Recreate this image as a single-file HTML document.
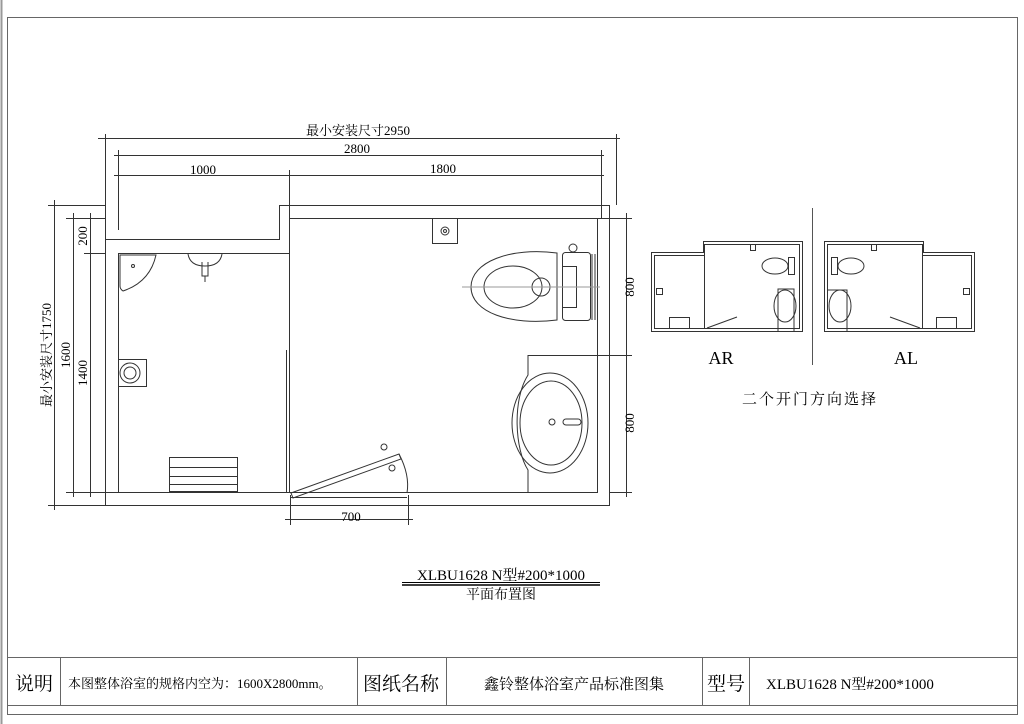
<!DOCTYPE html>
<html><head><meta charset="utf-8"><style>
html,body{margin:0;padding:0;background:#fff;width:1024px;height:724px;overflow:hidden}
svg{display:block}
text{font-family:"Liberation Serif","Noto Serif CJK SC","WenQuanYi Zen Hei",serif;fill:#000}
</style></head><body>
<svg width="1024" height="724" viewBox="0 0 1024 724" xmlns="http://www.w3.org/2000/svg">
<g fill="none" stroke="#333" stroke-width="1">
<line x1="1.5" y1="0" x2="1.5" y2="724" stroke="#999" stroke-width="2"/>
<rect x="7.5" y="17.5" width="1010" height="697" stroke="#666"/>
<rect x="7.5" y="657.5" width="1010" height="48" stroke="#666"/>
<line x1="60.5" y1="657" x2="60.5" y2="705" stroke="#666"/>
<line x1="357.5" y1="657" x2="357.5" y2="705" stroke="#666"/>
<line x1="446.5" y1="657" x2="446.5" y2="705" stroke="#666"/>
<line x1="702.5" y1="657" x2="702.5" y2="705" stroke="#666"/>
<line x1="749.5" y1="657" x2="749.5" y2="705" stroke="#666"/>

<path d="M105.5 505.5 V239.5 H279.5 V205.5 H609.5 V505.5 Z"/>
<rect x="118.5" y="253.5" width="171" height="239"/>
<path d="M289.5 492.5 V218.5 H597.5 V492.5 H289.5"/>
<line x1="286.5" y1="350" x2="286.5" y2="492"/>

<line x1="98" y1="138.5" x2="620" y2="138.5"/>
<line x1="105.5" y1="134" x2="105.5" y2="239"/>
<line x1="616.5" y1="134" x2="616.5" y2="205"/>
<line x1="114" y1="155.5" x2="604" y2="155.5"/>
<line x1="114" y1="175.5" x2="604" y2="175.5"/>
<line x1="118.5" y1="150" x2="118.5" y2="230"/>
<line x1="289.5" y1="170" x2="289.5" y2="218"/>
<line x1="601.5" y1="150" x2="601.5" y2="218"/>
<line x1="54.5" y1="200" x2="54.5" y2="510"/>
<line x1="73.5" y1="213" x2="73.5" y2="497"/>
<line x1="90.5" y1="213" x2="90.5" y2="497"/>
<line x1="48" y1="205.5" x2="105" y2="205.5"/>
<line x1="66" y1="218.5" x2="105" y2="218.5"/>
<line x1="84" y1="253.5" x2="105" y2="253.5"/>
<line x1="66" y1="492.5" x2="118" y2="492.5"/>
<line x1="48" y1="505.5" x2="105" y2="505.5"/>
<line x1="626.5" y1="213" x2="626.5" y2="497"/>
<line x1="597" y1="218.5" x2="632" y2="218.5"/>
<line x1="597" y1="355.5" x2="632" y2="355.5"/>
<line x1="609" y1="492.5" x2="632" y2="492.5"/>
<line x1="285" y1="519.5" x2="413" y2="519.5"/>
<line x1="290.5" y1="495" x2="290.5" y2="525"/>
<line x1="408.5" y1="495" x2="408.5" y2="525"/>

<rect x="432.5" y="218.5" width="25" height="25"/>
<circle cx="445" cy="231" r="4"/><circle cx="445" cy="231" r="1.5"/>
<path d="M557 253 C510 247 471 262 471 287 C471 312 510 326 557 320 Z"/>
<ellipse cx="513" cy="287" rx="29" ry="21"/>
<circle cx="541" cy="287" r="9"/>
<rect x="562.5" y="252.5" width="28" height="68" rx="3"/>
<rect x="562.5" y="266.5" width="14" height="41"/>
<line x1="592" y1="254" x2="592" y2="320"/><line x1="595" y1="254" x2="595" y2="320"/>
<circle cx="573" cy="248" r="4"/>
<line x1="462" y1="287" x2="600" y2="287" stroke="#999"/>
<path d="M528 492 V470 C515 450 512 400 528 375 V355.5 H597"/>
<ellipse cx="550" cy="423" rx="38" ry="50"/>
<ellipse cx="551" cy="423" rx="31" ry="42"/>
<circle cx="552" cy="422" r="3"/>
<rect x="563" y="419" width="18" height="6" rx="3"/>
<path d="M291 493 L399 454 L401 459 L293 498 Z"/>
<path d="M399 454 Q410 475 407 493"/>
<circle cx="384" cy="447" r="3"/><circle cx="392" cy="468" r="3"/>
<line x1="291" y1="497.5" x2="407" y2="497.5"/>

<path d="M120 255 H156 Q150 282 123 291 Q120 289 120 286 Z"/>
<circle cx="133" cy="266" r="1.5"/>
<path d="M188 254 Q190 266 205 266 Q220 266 222 254"/>
<path d="M202 262 V276 H208 V262"/>
<line x1="205" y1="276" x2="205" y2="282"/>
<rect x="118.5" y="359.5" width="28" height="27"/>
<circle cx="130" cy="373" r="10"/><circle cx="130" cy="373" r="6"/>
<rect x="169.5" y="457.5" width="68" height="34"/>
<line x1="169" y1="467.5" x2="237" y2="467.5"/>
<line x1="169" y1="476.5" x2="237" y2="476.5"/>
<line x1="169" y1="484.5" x2="237" y2="484.5"/>

<line x1="812.5" y1="208" x2="812.5" y2="365" stroke="#555"/>
<path d="M651.5 331.5 V252.5 H703.5 V241.5 H802.5 V331.5 Z"/>
<rect x="654.5" y="255.5" width="50" height="73"/>
<path d="M704.5 328.5 V244.5 H799.5 V328.5 Z"/>
<ellipse cx="775" cy="266" rx="13" ry="8"/><rect x="788.5" y="257.5" width="6" height="17"/>
<path d="M778 332 V289 H794 V332"/>
<ellipse cx="785" cy="306" rx="11" ry="16"/>
<rect x="750.5" y="244.5" width="5" height="6"/>
<line x1="707" y1="328" x2="737" y2="317"/>
<rect x="669.5" y="317.5" width="20" height="11"/>
<rect x="656.5" y="288.5" width="6" height="6"/>
<path d="M824.5 331.5 V241.5 H923.5 V252.5 H974.5 V331.5 Z"/>
<rect x="922.5" y="255.5" width="49" height="73"/>
<path d="M827.5 328.5 V244.5 H922.5 V328.5 Z"/>
<ellipse cx="851" cy="266" rx="13" ry="8"/><rect x="831.5" y="257.5" width="6" height="17"/>
<path d="M827 290 H847 V332"/>
<ellipse cx="840" cy="306" rx="11" ry="16"/>
<rect x="871.5" y="244.5" width="5" height="6"/>
<line x1="920" y1="328" x2="890" y2="317"/>
<rect x="936.5" y="317.5" width="20" height="11"/>
<rect x="963.5" y="288.5" width="6" height="6"/>

<line x1="402" y1="582.5" x2="600" y2="582.5" stroke="#000"/>
<line x1="402" y1="585" x2="600" y2="585" stroke="#000" stroke-width="1.5"/>
</g>

<g font-size="13">
<text x="358" y="135" text-anchor="middle">最小安装尺寸2950</text>
<text x="357" y="153" text-anchor="middle">2800</text>
<text x="203" y="174" text-anchor="middle">1000</text>
<text x="443" y="173" text-anchor="middle">1800</text>
<text x="351" y="521" text-anchor="middle">700</text>
<text transform="translate(51,355) rotate(-90)" text-anchor="middle">最小安装尺寸1750</text>
<text transform="translate(70,355) rotate(-90)" text-anchor="middle">1600</text>
<text transform="translate(87,236) rotate(-90)" text-anchor="middle">200</text>
<text transform="translate(87,373) rotate(-90)" text-anchor="middle">1400</text>
<text transform="translate(634,287) rotate(-90)" text-anchor="middle">800</text>
<text transform="translate(634,423) rotate(-90)" text-anchor="middle">800</text>
</g>
<text x="721" y="364" font-size="18" text-anchor="middle">AR</text>
<text x="906" y="364" font-size="18" text-anchor="middle">AL</text>
<text x="810" y="404" font-size="15" text-anchor="middle" letter-spacing="2">二个开门方向选择</text>
<text x="501" y="580" font-size="15" text-anchor="middle">XLBU1628 N型#200*1000</text>
<text x="501" y="599" font-size="14" text-anchor="middle">平面布置图</text>
<text x="34" y="690" font-size="19" text-anchor="middle">说明</text>
<text x="68" y="688" font-size="13">本图整体浴室的规格内空为：1600X2800mm。</text>
<text x="401" y="690" font-size="19" text-anchor="middle">图纸名称</text>
<text x="574" y="689" font-size="15" text-anchor="middle">鑫铃整体浴室产品标准图集</text>
<text x="726" y="690" font-size="19" text-anchor="middle">型号</text>
<text x="766" y="689" font-size="15">XLBU1628 N型#200*1000</text>
</svg>
</body></html>
